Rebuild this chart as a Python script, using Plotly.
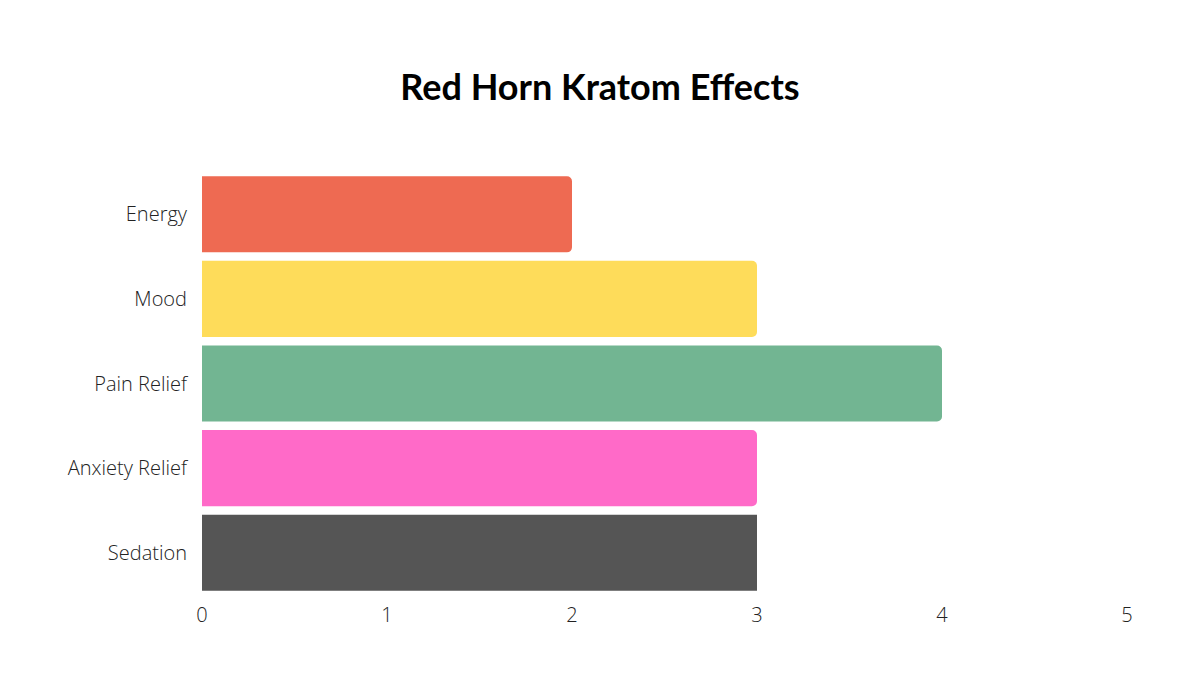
import plotly.graph_objects as go

effects = ["Energy", "Mood", "Pain Relief", "Anxiety Relief", "Sedation"]
scores = [2, 3, 4, 3, 3]
colors = ["#EE6A52", "#FEDC5A", "#72B592", "#FF6AC8", "#555555"]
corners = [5, 5, 5, 5, 0]

fig = go.Figure()
for name, val, col, rad in zip(effects, scores, colors, corners):
    fig.add_trace(go.Bar(
        x=[val], y=[name], orientation="h",
        marker=dict(color=col, cornerradius=rad, line=dict(width=0)),
        showlegend=False, hoverinfo="x+y",
    ))

# page adds an 8px body margin, so margins are shifted to compensate
fig.update_layout(
    width=1200, height=675,
    barmode="overlay", bargap=0.1,
    plot_bgcolor="white", paper_bgcolor="white",
    margin=dict(l=194, r=81, t=164, b=88),
    title=dict(text="<b>Red Horn Kratom Effects</b>", x=0.4933, xanchor="center",
               y=0.882, yanchor="middle",
               font=dict(family="Lato", size=36, color="black", weight=900)),
    font=dict(family="Open Sans", size=20, color="#222222", weight=300),
)
fig.update_xaxes(range=[0, 5], dtick=1, showgrid=False, zeroline=False,
                 showline=False, ticks="", ticklabelstandoff=6)
fig.update_yaxes(categoryorder="array", categoryarray=effects[::-1],
                 showgrid=False, zeroline=False, showline=False, ticks="",
                 ticklabelstandoff=14)

fig.write_html("out.html")
